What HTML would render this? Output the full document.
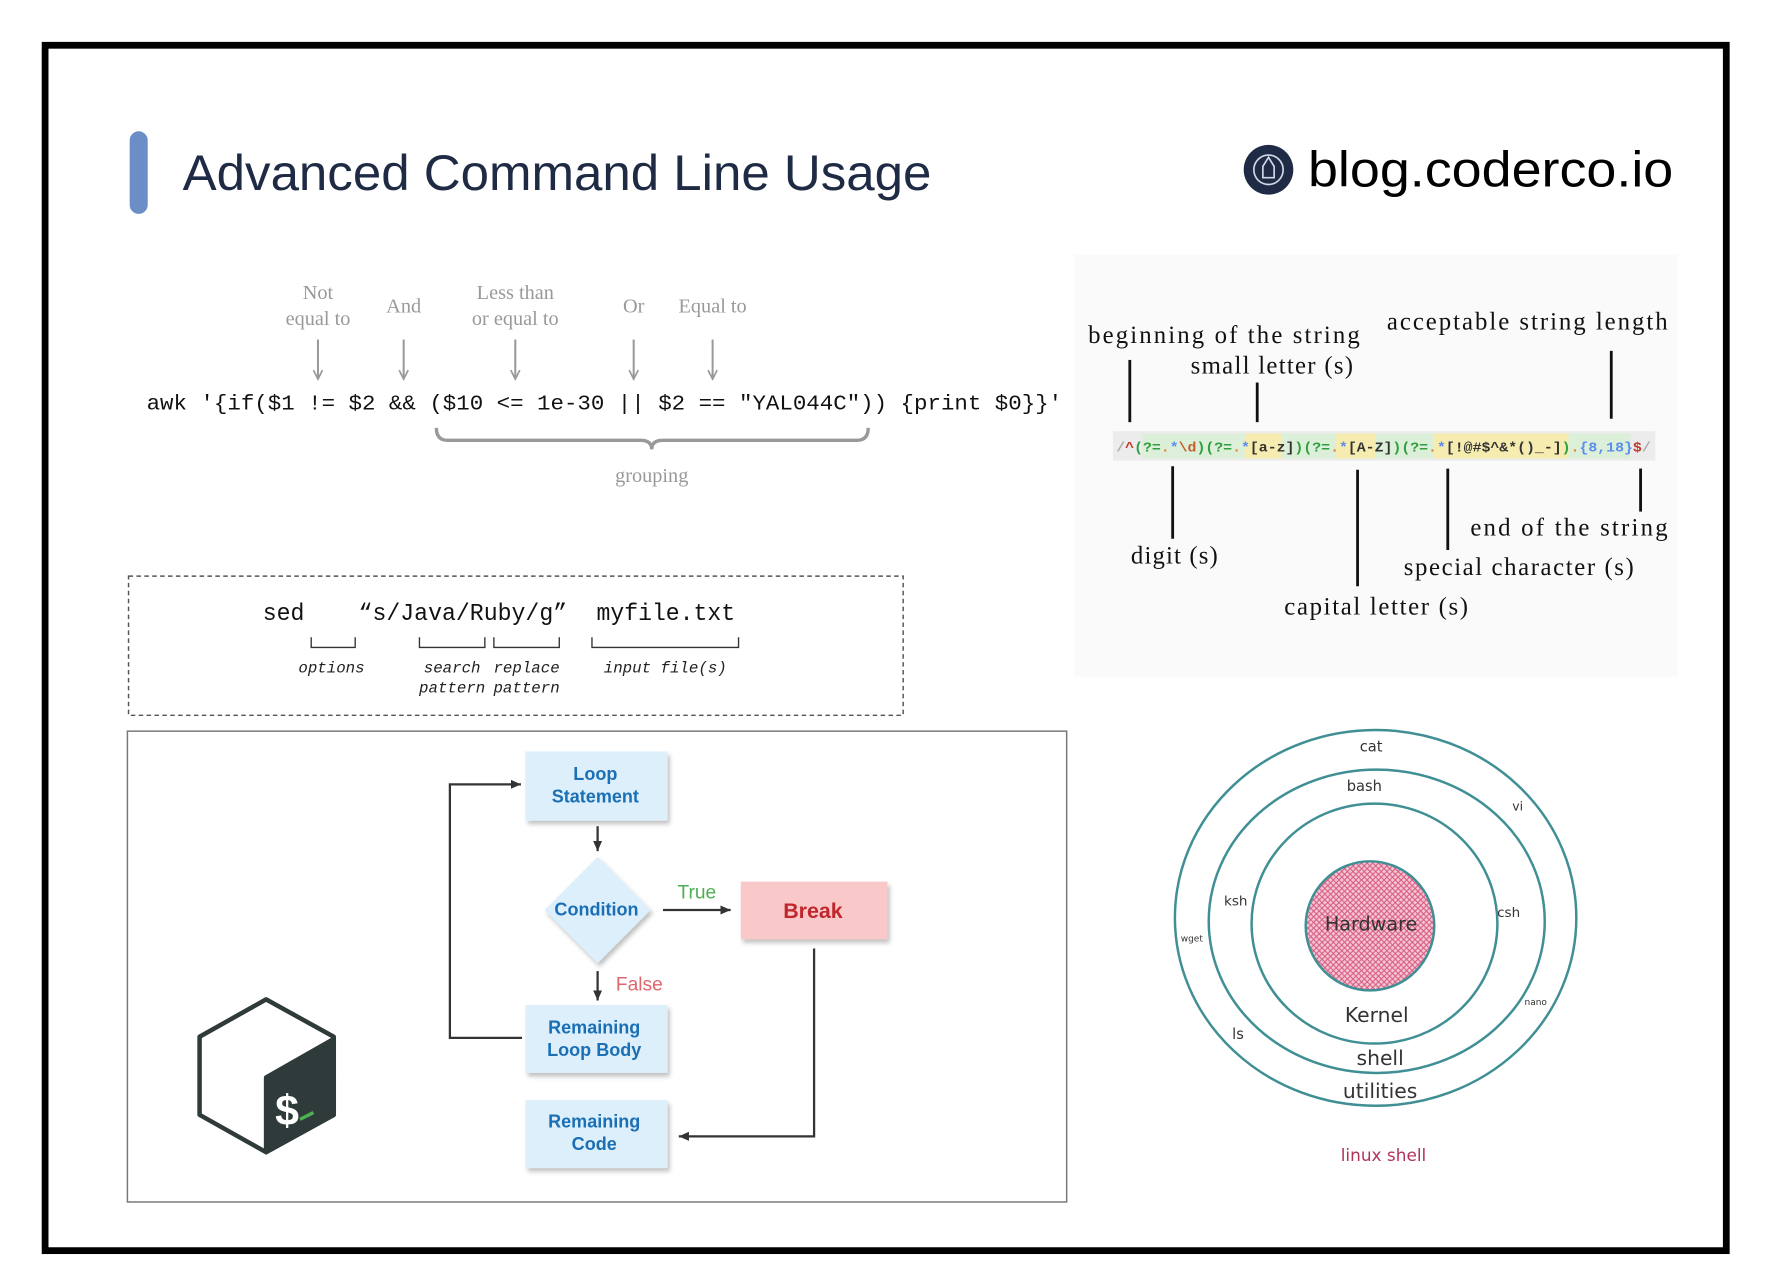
<!DOCTYPE html>
<html><head><meta charset="utf-8"><style>
html,body{margin:0;padding:0;background:#fff;}
svg{display:block;}
</style></head><body>
<svg width="1768" height="1288" viewBox="0 0 1568 1138" preserveAspectRatio="none" xmlns="http://www.w3.org/2000/svg">
<defs>
<marker id="ag" markerWidth="10" markerHeight="10" refX="9" refY="5" orient="auto" markerUnits="userSpaceOnUse"><path d="M1,1 L9,5 L1,9" fill="none" stroke="#999" stroke-width="1.5"/></marker>
<marker id="ad" markerWidth="10" markerHeight="10" refX="9" refY="5" orient="auto" markerUnits="userSpaceOnUse"><path d="M0,1 L9,5 L0,9 Z" fill="#333"/></marker>
<pattern id="hatch" width="5" height="5" patternUnits="userSpaceOnUse"><rect width="5" height="5" fill="#f3c6d3"/><path d="M0,0 L5,5 M5,0 L0,5" stroke="#d9577f" stroke-width="0.9"/></pattern>
<filter id="sh" x="-10%" y="-10%" width="130%" height="130%"><feDropShadow dx="2" dy="3" stdDeviation="2" flood-color="#000" flood-opacity="0.25"/></filter>
</defs>
<rect x="0" y="0" width="1568" height="1138" fill="#fff"/>
<rect x="40" y="40" width="1491" height="1065" fill="none" stroke="#000" stroke-width="6"/>

<rect x="115" y="116" width="16" height="73" rx="8" fill="#6b8ec6"/>
<text x="162" y="168" font-family="Liberation Sans, sans-serif" font-size="44" fill="#1f2a44" textLength="664" lengthAdjust="spacingAndGlyphs">Advanced Command Line Usage</text>
<circle cx="1125" cy="150" r="22" fill="#1f2a44"/>
<circle cx="1125" cy="150" r="13" fill="none" stroke="#cfd6e6" stroke-width="1.5"/>
<path d="M1125,139 L1130,147 L1130,157 L1120,157 L1120,147 Z" fill="none" stroke="#cfd6e6" stroke-width="1.5"/>
<text x="1160" y="165" font-family="Liberation Sans, sans-serif" font-size="44" fill="#000" textLength="324" lengthAdjust="spacingAndGlyphs">blog.coderco.io</text>

<g font-family="Liberation Serif, serif" font-size="18" fill="#999" text-anchor="middle">
<text x="282" y="264">Not</text><text x="282" y="287">equal to</text>
<text x="358" y="276">And</text>
<text x="457" y="264">Less than</text><text x="457" y="287">or equal to</text>
<text x="562" y="276">Or</text>
<text x="632" y="276">Equal to</text>
<text x="578" y="426">grouping</text>
</g>
<g stroke="#999" stroke-width="1.8" marker-end="url(#ag)">
<line x1="282" y1="300" x2="282" y2="335"/><line x1="358" y1="300" x2="358" y2="335"/>
<line x1="457" y1="300" x2="457" y2="335"/><line x1="562" y1="300" x2="562" y2="335"/>
<line x1="632" y1="300" x2="632" y2="335"/>
</g>
<text x="130" y="362" font-family="Liberation Mono, monospace" font-size="19" fill="#111" textLength="812" lengthAdjust="spacingAndGlyphs">awk '{if($1 != $2 &amp;&amp; ($10 &lt;= 1e-30 || $2 == "YAL044C")) {print $0}}'</text>
<path d="M387,378 Q387,389 397,389 L568,389 Q578,389 578,397 Q578,389 588,389 L760,389 Q770,389 770,378" fill="none" stroke="#999" stroke-width="3"/>

<rect x="114" y="509" width="687" height="123" fill="none" stroke="#555" stroke-width="1.3" stroke-dasharray="4,3"/>
<g font-family="Liberation Mono, monospace" font-size="21" fill="#111">
<text x="233" y="548" textLength="37" lengthAdjust="spacingAndGlyphs">sed</text>
<text x="318" y="548" textLength="185" lengthAdjust="spacingAndGlyphs">“s/Java/Ruby/g”</text>
<text x="529" y="548" textLength="123" lengthAdjust="spacingAndGlyphs">myfile.txt</text>
</g>
<g fill="none" stroke="#333" stroke-width="1.2">
<path d="M276,563 V572 H315 V563"/><path d="M372,563 V572 H430 V563"/><path d="M438,563 V572 H496 V563"/><path d="M525,563 V572 H655 V563"/>
</g>
<g font-family="Liberation Mono, monospace" font-style="italic" font-size="14" fill="#222" text-anchor="middle">
<text x="294" y="594">options</text>
<text x="401" y="594">search</text><text x="401" y="612">pattern</text>
<text x="467" y="594">replace</text><text x="467" y="612">pattern</text>
<text x="590" y="594">input file(s)</text>
</g>

<rect x="113" y="646" width="833" height="416" fill="none" stroke="#777" stroke-width="1.3"/>
<g filter="url(#sh)">
<rect x="466" y="664" width="126" height="61" fill="#dcefFb"/>
<rect x="657" y="779" width="130" height="51" fill="#f9c9c9"/>
<rect x="466" y="888" width="126" height="60" fill="#dcefFb"/>
<rect x="466" y="972" width="126" height="60" fill="#dcefFb"/>
<path d="M530,757 L577,804 L530,851 L483,804 Z" fill="#dcefFb"/>
</g>
<g font-family="Liberation Sans, sans-serif" font-weight="bold" font-size="16" fill="#1a6fb5" text-anchor="middle">
<text x="528" y="689">Loop</text><text x="528" y="709">Statement</text>
<text x="529" y="809">Condition</text>
<text x="527" y="913">Remaining</text><text x="527" y="933">Loop Body</text>
<text x="527" y="996">Remaining</text><text x="527" y="1016">Code</text>
</g>
<text x="721" y="811" font-family="Liberation Sans, sans-serif" font-weight="bold" font-size="19" fill="#c0272d" text-anchor="middle">Break</text>
<text x="618" y="794" font-family="Liberation Sans, sans-serif" font-size="17" fill="#4caf50" text-anchor="middle">True</text>
<text x="567" y="875" font-family="Liberation Sans, sans-serif" font-size="17" fill="#e0666e" text-anchor="middle">False</text>
<g stroke="#333" stroke-width="2" fill="none" marker-end="url(#ad)">
<line x1="530" y1="730" x2="530" y2="752"/>
<line x1="588" y1="804" x2="648" y2="804"/>
<line x1="530" y1="858" x2="530" y2="884"/>
<path d="M463,917 H399 V693 H462"/>
<path d="M722,838 V1004 H602"/>
</g>

<path d="M236,883 L296,916 L296,985 L236,1018 L177,985 L177,916 Z" fill="#fff" stroke="#2f3a3a" stroke-width="4" stroke-linejoin="round"/>
<path d="M236,952 L296,918 L296,985 L236,1018 Z" fill="#2f3a3a" stroke="#2f3a3a" stroke-width="4" stroke-linejoin="round"/>
<text x="244" y="994" font-family="Liberation Sans, sans-serif" font-weight="bold" font-size="38" fill="#fff">$</text>
<line x1="266" y1="989" x2="278" y2="983" stroke="#4caf50" stroke-width="3"/>

<rect x="953" y="225" width="535" height="373" fill="#fafafa"/>
<rect x="987" y="381" width="481" height="26" fill="#ececec"/>
<rect x="1013" y="383" width="433" height="22" fill="#dcefd9"/>
<rect x="1104" y="383" width="33" height="22" fill="#f7ecb0"/>
<rect x="1185" y="383" width="35" height="22" fill="#f7ecb0"/>
<rect x="1271" y="383" width="120" height="22" fill="#f7ecb0"/>
<text x="990" y="399" font-family="Liberation Mono, monospace" font-weight="bold" font-size="12.5" fill="#2e9e3e" textLength="474" lengthAdjust="spacingAndGlyphs"><tspan fill="#aaa">/</tspan><tspan fill="#c0392b">^</tspan>(?=<tspan fill="#e67e22">.</tspan><tspan fill="#5b8def">*</tspan><tspan fill="#c0602b">\d</tspan>)(?=<tspan fill="#e67e22">.</tspan><tspan fill="#5b8def">*</tspan><tspan fill="#333">[a-z]</tspan>)(?=<tspan fill="#e67e22">.</tspan><tspan fill="#5b8def">*</tspan><tspan fill="#333">[A-Z]</tspan>)(?=<tspan fill="#e67e22">.</tspan><tspan fill="#5b8def">*</tspan><tspan fill="#333">[!@#$^&amp;*()_-]</tspan>)<tspan fill="#e67e22">.</tspan><tspan fill="#5b8def">{8,18}</tspan><tspan fill="#c0392b">$</tspan><tspan fill="#aaa">/</tspan></text>
<g stroke="#111" stroke-width="2.5">
<line x1="1002" y1="318" x2="1002" y2="373"/><line x1="1115" y1="338" x2="1115" y2="373"/><line x1="1429" y1="310" x2="1429" y2="370"/>
<line x1="1040" y1="412" x2="1040" y2="476"/><line x1="1204" y1="415" x2="1204" y2="518"/><line x1="1284" y1="414" x2="1284" y2="486"/><line x1="1455" y1="414" x2="1455" y2="452"/>
</g>
<g font-family="Liberation Serif, serif" font-size="22" fill="#111" lengthAdjust="spacingAndGlyphs">
<text x="965" y="303" textLength="241">beginning of the string</text>
<text x="1056" y="330" textLength="144">small letter (s)</text>
<text x="1230" y="291" textLength="249">acceptable string length</text>
<text x="1003" y="498" textLength="77">digit (s)</text>
<text x="1304" y="473" textLength="175">end of the string</text>
<text x="1245" y="508" textLength="204">special character (s)</text>
<text x="1139" y="543" textLength="163">capital letter (s)</text>
</g>

<g fill="none" stroke="#3f8f94" stroke-width="2.2">
<ellipse cx="1220" cy="811" rx="178" ry="166"/>
<ellipse cx="1221" cy="814" rx="149" ry="134"/>
<ellipse cx="1219" cy="816" rx="109" ry="106"/>
</g>
<circle cx="1215" cy="818" r="57" fill="url(#hatch)" stroke="#3f8f94" stroke-width="2.2"/>
<g font-family="DejaVu Sans, sans-serif" fill="#333" text-anchor="middle">
<text x="1216" y="822" font-size="17">Hardware</text>
<text x="1221" y="903" font-size="18">Kernel</text>
<text x="1224" y="941" font-size="18">shell</text>
<text x="1224" y="970" font-size="18">utilities</text>
<text x="1216" y="664" font-size="13">cat</text>
<text x="1210" y="699" font-size="13">bash</text>
<text x="1346" y="716" font-size="11">vi</text>
<text x="1096" y="800" font-size="12">ksh</text>
<text x="1338" y="810" font-size="12">csh</text>
<text x="1057" y="832" font-size="8">wget</text>
<text x="1362" y="888" font-size="8">nano</text>
<text x="1098" y="918" font-size="13">ls</text>
<text x="1227" y="1026" font-size="15" fill="#b0335a">linux shell</text>
</g>
</svg>
</body></html>
